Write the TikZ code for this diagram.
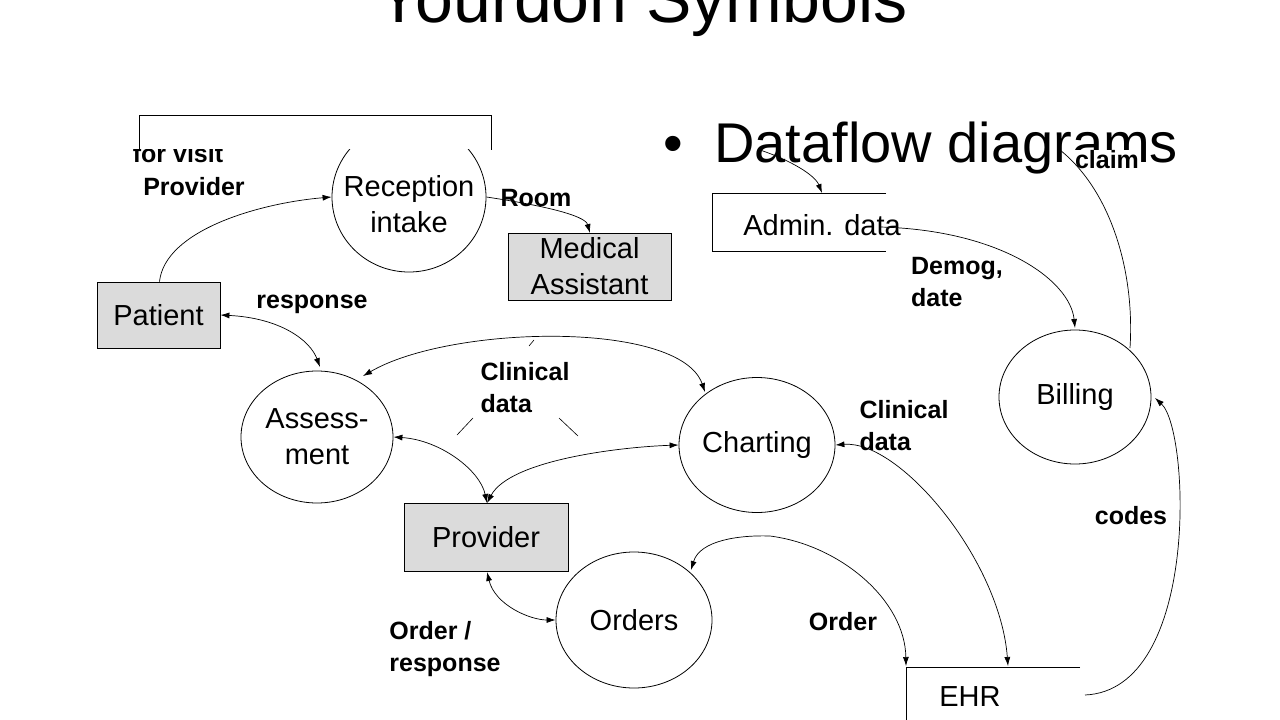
\documentclass[tikz,border=0pt]{standalone}
\usepackage{fontspec}
\setmainfont{Liberation Sans}
\usetikzlibrary{shapes.geometric,arrows.meta}
\begin{document}
\begin{tikzpicture}[x=1pt,y=-1pt,
  proc/.style={draw,ellipse,line width=0.8pt,fill=white,font=\fontsize{29}{36}\selectfont,align=center,inner sep=0pt},
  ent/.style={draw,fill=black!14,line width=0.8pt,font=\fontsize{29}{36}\selectfont,align=center,inner sep=0pt},
  lbl/.style={font=\bfseries\fontsize{25}{32}\selectfont,align=left},
  flow/.style={line width=0.7pt,-{Latex[length=9pt,width=6pt]}},
  bflow/.style={line width=0.7pt,{Latex[length=9pt,width=6pt]}-{Latex[length=9pt,width=6pt]}},
  store/.style={line width=0.8pt}]
\useasboundingbox (0,0) rectangle (1280,720);
\clip (0,0) rectangle (1280,720);
% title
\node[font=\fontsize{68}{70}\selectfont,anchor=base] (title) at (642,22) {Yourdon Symbols};
% nodes
\node[proc,minimum width=154pt,minimum height=150pt] (rec) at (409,197) {};
\node[font=\fontsize{29}{36}\selectfont,align=center] (rect) at (409,204) {Reception\\intake};
\node[lbl,anchor=base] (forvisit) at (178,162) {for visit};
\fill[white] (100,100) rectangle (520,149);
\draw[store] (139,150) -- (139,115) -- (491,115) -- (491,150);
\node[lbl] (provl) at (194,187) {Provider};
\node[ent,minimum width=163pt,minimum height=67pt] (ma) at (589.5,266.5) {Medical\\Assistant};
\node[ent,minimum width=123pt,minimum height=66pt] (pat) at (158.5,315) {Patient};
\node[proc,minimum width=152pt,minimum height=132pt] (ass) at (317,437) {Assess-\\ment};
\node[proc,minimum width=156pt,minimum height=135pt] (cha) at (757,445) {Charting};
\node[ent,minimum width=164pt,minimum height=68pt] (pro) at (486,537) {Provider};
\node[proc,minimum width=156pt,minimum height=136pt] (ord) at (634,620) {Orders};
\node[proc,minimum width=152pt,minimum height=134pt] (bil) at (1075,397) {Billing};
% stores
\draw[store] (886,193) -- (712,193) -- (712,251) -- (886,251);
\node[font=\fontsize{29}{36}\selectfont] (adm) at (822,225) {Admin. data};
\draw[store] (1080,667) -- (906,667) -- (906,720);
\node[font=\fontsize{29}{36}\selectfont] (ehr) at (970,697) {EHR};
\coordinate (admtop) at (822,193);
\coordinate (admsrc) at (760,150);
\coordinate (ehrA) at (906,666);
\coordinate (ehrB) at (1008,666);
\coordinate (ehrR) at (1085,695);
\coordinate (claimEnd) at (1060,150);
% bullet text
\node[font=\fontsize{56}{60}\selectfont,anchor=base west] (bul) at (660,162) {\textbullet\ \ Dataflow diagrams};
% labels
\node[lbl] (room) at (536,198) {Room};
\node[lbl] (resp) at (312,304) {response};
\node[lbl] (cd1) at (525,388) {Clinical\\data};
\node[lbl] (cd2) at (904,426) {Clinical\\data};
\node[lbl] (demog) at (957,282) {Demog,\\date};
\node[lbl] (orl) at (445,649) {Order /\\response};
\node[lbl] (order) at (843,622) {Order};
\node[lbl] (codes) at (1131,516) {codes};
\node[lbl,fill=white,inner sep=1pt] (claim) at (1107,160) {claim};
% decorative marks
\draw[line width=0.6pt] (457,435) -- (473,418) (559,418) -- (578,436) (529,346) -- (534,340);
% flows
\draw[flow] (pat.north) ++(1,0) .. controls (165,230) and (260,203) .. (rec.west);
\draw[flow] (rec.east) .. controls (540,205) and (585,215) .. (590,233);
\draw[bflow] (pat.east) .. controls (280,318) and (310,340) .. (320,367);
\draw[bflow] (ass.north east) ++(-8,-14) .. controls (450,325) and (680,320) .. (705,392);
\draw[bflow] (ass.east) .. controls (440,440) and (480,470) .. (487,503);
\draw[bflow] (487,503) .. controls (510,460) and (620,447) .. (cha.west);
\draw[bflow] (487,572) .. controls (495,605) and (530,620) .. (ord.west);
\draw[bflow] (691,570) .. controls (700,540) and (740,535) .. (770,536) .. controls (840,545) and (905,600) .. (ehrA);
\draw[bflow] (cha.east) .. controls (900,440) and (1000,560) .. (ehrB);
\draw[flow] (ehrR) .. controls (1200,690) and (1190,430) .. (1155,398);
\draw[flow] (admsrc) .. controls (790,160) and (815,175) .. (admtop);
\draw[flow] (880,227) .. controls (1000,230) and (1070,280) .. (1075,328);
\draw[line width=0.7pt] (1130,348) .. controls (1135,270) and (1110,190) .. (claimEnd);
\end{tikzpicture}
\end{document}
